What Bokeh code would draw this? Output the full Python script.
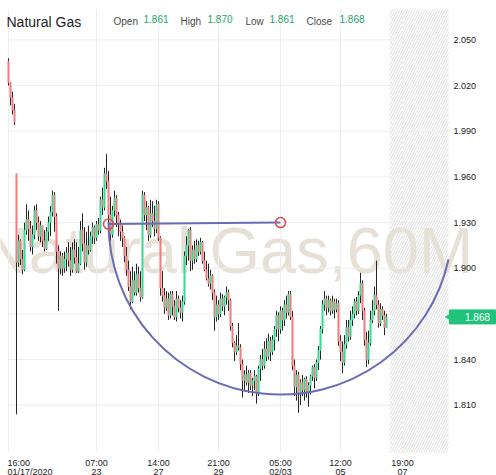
import math
from bokeh.plotting import figure
from bokeh.models import ColumnDataSource, Range1d, BoxAnnotation
from bokeh.core.properties import value
from bokeh.embed import file_html
from bokeh.resources import INLINE

# ---------------- data ----------------
instrument = "Natural Gas"
interval = "60M"

close = [
    2.022, 2.012, 2.004, 1.996, 1.904, 1.918, 1.906, 1.899, 1.925, 1.932,
    1.926, 1.914, 1.922, 1.938, 1.930, 1.921, 1.928, 1.918, 1.913, 1.924,
    1.930, 1.937, 1.948, 1.934, 1.911, 1.900, 1.908, 1.900, 1.906, 1.910,
    1.905, 1.899, 1.912, 1.907, 1.898, 1.903, 1.925, 1.916, 1.904, 1.915,
    1.912, 1.921, 1.927, 1.920, 1.929, 1.925, 1.945, 1.940, 1.962, 1.957,
    1.935, 1.922, 1.938, 1.946, 1.935, 1.929, 1.924, 1.920, 1.908, 1.899,
    1.888, 1.878, 1.892, 1.884, 1.896, 1.887, 1.881, 1.948, 1.935, 1.940,
    1.922, 1.936, 1.931, 1.926, 1.942, 1.920, 1.887, 1.882, 1.874, 1.880,
    1.869, 1.883, 1.875, 1.868, 1.880, 1.874, 1.871, 1.878, 1.908, 1.915,
    1.925, 1.905, 1.912, 1.906, 1.915, 1.911, 1.917, 1.905, 1.899, 1.893,
    1.890, 1.895, 1.884, 1.868, 1.876, 1.870, 1.880, 1.875, 1.881, 1.884,
    1.879, 1.862, 1.851, 1.845, 1.849, 1.848, 1.837, 1.826, 1.830, 1.825,
    1.831, 1.823, 1.826, 1.829, 1.818, 1.834, 1.840, 1.836, 1.847, 1.842,
    1.852, 1.845, 1.853, 1.860, 1.869, 1.860, 1.872, 1.866, 1.876, 1.871,
    1.883, 1.868, 1.836, 1.822, 1.830, 1.818, 1.825, 1.820, 1.827, 1.819,
    1.823, 1.829, 1.835, 1.828, 1.838, 1.846, 1.860, 1.876, 1.880, 1.874,
    1.879, 1.872, 1.878, 1.873, 1.877, 1.852, 1.845, 1.838, 1.850, 1.861,
    1.855, 1.866, 1.870, 1.878, 1.872, 1.882, 1.890, 1.872, 1.853, 1.840,
    1.851, 1.866, 1.872, 1.882, 1.876, 1.864, 1.873, 1.869, 1.861, 1.868,
]
high = [
    2.038, 2.022, 2.016, 2.008, 1.962, 1.922, 1.919, 1.912, 1.930, 1.942,
    1.938, 1.931, 1.928, 1.941, 1.942, 1.934, 1.931, 1.928, 1.925, 1.927,
    1.934, 1.941, 1.951, 1.950, 1.936, 1.915, 1.911, 1.910, 1.911, 1.914,
    1.917, 1.914, 1.917, 1.919, 1.917, 1.914, 1.931, 1.936, 1.927, 1.924,
    1.928, 1.924, 1.930, 1.928, 1.931, 1.933, 1.947, 1.953, 1.966, 1.975,
    1.964, 1.947, 1.941, 1.951, 1.948, 1.937, 1.932, 1.928, 1.921, 1.914,
    1.905, 1.898, 1.901, 1.898, 1.903, 1.901, 1.898, 1.951, 1.950, 1.944,
    1.941, 1.945, 1.944, 1.941, 1.945, 1.944, 1.921, 1.898, 1.887, 1.885,
    1.884, 1.885, 1.885, 1.879, 1.885, 1.882, 1.879, 1.882, 1.911, 1.921,
    1.926, 1.927, 1.915, 1.918, 1.919, 1.918, 1.920, 1.918, 1.911, 1.905,
    1.903, 1.899, 1.896, 1.886, 1.882, 1.879, 1.884, 1.883, 1.882, 1.888,
    1.886, 1.880, 1.864, 1.852, 1.856, 1.864, 1.850, 1.840, 1.833, 1.836,
    1.833, 1.833, 1.828, 1.833, 1.830, 1.836, 1.843, 1.847, 1.852, 1.854,
    1.857, 1.855, 1.856, 1.862, 1.872, 1.871, 1.875, 1.874, 1.879, 1.882,
    1.885, 1.885, 1.872, 1.840, 1.833, 1.832, 1.827, 1.830, 1.828, 1.829,
    1.825, 1.830, 1.836, 1.837, 1.840, 1.849, 1.862, 1.879, 1.885, 1.882,
    1.882, 1.880, 1.882, 1.880, 1.880, 1.879, 1.856, 1.852, 1.856, 1.866,
    1.866, 1.872, 1.875, 1.880, 1.881, 1.885, 1.897, 1.892, 1.874, 1.858,
    1.859, 1.872, 1.879, 1.888, 1.905, 1.879, 1.877, 1.875, 1.872, 1.870,
]
low = [
    2.020, 2.007, 2.001, 1.994, 1.804, 1.901, 1.902, 1.896, 1.898, 1.922,
    1.918, 1.911, 1.909, 1.919, 1.925, 1.918, 1.917, 1.914, 1.911, 1.912,
    1.918, 1.921, 1.934, 1.924, 1.903, 1.872, 1.896, 1.895, 1.897, 1.898,
    1.901, 1.895, 1.897, 1.903, 1.897, 1.897, 1.902, 1.911, 1.899, 1.901,
    1.909, 1.911, 1.916, 1.916, 1.918, 1.922, 1.923, 1.935, 1.938, 1.952,
    1.929, 1.918, 1.920, 1.934, 1.927, 1.921, 1.918, 1.914, 1.904, 1.895,
    1.885, 1.873, 1.877, 1.882, 1.882, 1.884, 1.878, 1.880, 1.931, 1.925,
    1.918, 1.920, 1.927, 1.921, 1.923, 1.918, 1.882, 1.878, 1.870, 1.872,
    1.866, 1.867, 1.869, 1.866, 1.865, 1.871, 1.867, 1.865, 1.876, 1.902,
    1.905, 1.898, 1.899, 1.903, 1.904, 1.908, 1.909, 1.903, 1.898, 1.892,
    1.888, 1.886, 1.879, 1.859, 1.865, 1.866, 1.868, 1.872, 1.869, 1.876,
    1.872, 1.859, 1.848, 1.839, 1.843, 1.846, 1.833, 1.815, 1.820, 1.823,
    1.818, 1.820, 1.816, 1.820, 1.811, 1.816, 1.826, 1.833, 1.834, 1.839,
    1.840, 1.839, 1.843, 1.846, 1.855, 1.852, 1.857, 1.859, 1.862, 1.867,
    1.869, 1.866, 1.833, 1.816, 1.813, 1.805, 1.810, 1.816, 1.813, 1.815,
    1.809, 1.817, 1.826, 1.821, 1.826, 1.833, 1.840, 1.857, 1.872, 1.869,
    1.871, 1.869, 1.870, 1.867, 1.871, 1.849, 1.839, 1.831, 1.836, 1.847,
    1.852, 1.853, 1.862, 1.867, 1.869, 1.870, 1.877, 1.866, 1.849, 1.835,
    1.837, 1.849, 1.864, 1.869, 1.873, 1.861, 1.862, 1.866, 1.856, 1.861,
]
first_open = 2.036
gap_opens = {4: 1.962}          # bar index -> open after the holiday gap

tick_index = [0, 44, 75, 105, 136, 166, 197]
tick_time = ["16:00", "07:00", "14:00", "21:00", "05:00", "12:00", "19:00"]
tick_date = ["01/17/2020", "23", "27", "29", "02/03", "05", "07"]
price_ticks = [1.810, 1.840, 1.870, 1.900, 1.930, 1.960, 1.990, 2.020, 2.050]

# drawing on the chart (bar index, price)
draw_x = [50, 136]
draw_y = [1.929, 1.930]

# ---------------- layout constants (pixels) ----------------
W, H = 496, 475
PX_PER_BAR = 2.0
BAR0_PX = 8.0                   # x pixel of bar 0
PX_PER_PRICE = 1522.0
PRICE0, PRICE0_PX = 1.810, 404.7
PLOT_L, PLOT_R, PLOT_T, PLOT_B = 7, 448, 9, 452


def xd(px):
    return (px - BAR0_PX) / PX_PER_BAR


def yd(py):
    return PRICE0 + (PRICE0_PX - py) / PX_PER_PRICE


FONT = value("Liberation Sans")
GREEN_TXT = "#1ea36a"
TAG = "#20c27c"
UP = "#3cd896"
DOWN = "#f07f7f"
WICK = "#262626"
DRAW = "#6a6cb6"
GRID = "#eeeeee"
AXIS_TXT = "#1a1a1a"

# ---------------- build ----------------
n = len(close)
opens = [first_open] + close[:-1]
for k, v in gap_opens.items():
    opens[k] = v
src = ColumnDataSource(dict(
    x=list(range(n)), h=high, l=low,
    top=[max(a, b) for a, b in zip(opens, close)],
    bot=[min(a, b) for a, b in zip(opens, close)],
    col=[UP if c >= o else DOWN for o, c in zip(opens, close)],
))

p = figure(width=W, height=H,
           x_range=Range1d(xd(0), xd(W)), y_range=Range1d(yd(H), yd(0)),
           output_backend="svg", toolbar_location=None,
           x_axis_location=None, y_axis_location=None, min_border=0)
p.outline_line_color = None
p.background_fill_color = "white"
p.border_fill_color = "white"
p.grid.visible = False

# future (hatched) zone
p.add_layout(BoxAnnotation(left=n + 0.5, right=xd(PLOT_R), top=yd(PLOT_T), bottom=yd(PLOT_B),
                           fill_alpha=0, line_alpha=0,
                           hatch_pattern="/", hatch_color="#e0e0e0",
                           hatch_scale=5, hatch_weight=1, level="underlay"))

# watermark
p.text(x=[xd(227)], y=[yd(250)], text=[f"{instrument},{interval}"],
       text_font=FONT, text_font_size="65px", text_color="#e6e0d6",
       text_align="center", text_baseline="alphabetic")

# grid lines
p.segment(x0=[xd(PLOT_L)] * len(price_ticks), x1=[xd(PLOT_R)] * len(price_ticks),
          y0=price_ticks, y1=price_ticks, line_color=GRID, line_width=1)
p.segment(x0=tick_index, x1=tick_index,
          y0=[yd(PLOT_T)] * len(tick_index), y1=[yd(PLOT_B)] * len(tick_index),
          line_color=GRID, line_width=1)

# candles
p.segment(x0="x", y0="h", x1="x", y1="l", source=src, line_color=WICK, line_width=1)
p.vbar(x="x", top="top", bottom="bot", width=0.75, source=src,
       fill_color="col", line_color="col", line_width=0.5)

# drawing: line, arc and anchors
p.line(draw_x, draw_y, line_color=DRAW, line_width=2)
r_px = (draw_x[1] - draw_x[0]) * PX_PER_BAR
cx_px = BAR0_PX + draw_x[1] * PX_PER_BAR
end_ang = 2 * math.pi - math.acos(min(1.0, (PLOT_R - cx_px) / r_px))
p.arc(x=[draw_x[1]], y=[draw_y[1]], radius=r_px, radius_units="screen",
      start_angle=math.pi, end_angle=end_ang, direction="anticlock",
      line_color=DRAW, line_width=2)
p.scatter(draw_x, draw_y, marker="circle", size=10, fill_alpha=0,
          line_color="#e0484a", line_width=1.5)

# price axis labels (right)
p.text(x=[xd(453)] * len(price_ticks), y=price_ticks,
       text=[f"{v:.3f}" for v in price_ticks],
       text_font=FONT, text_font_size="9px", text_color=AXIS_TXT,
       text_align="left", text_baseline="middle")

# time axis labels (bottom)
p.text(x=tick_index[1:], y=[yd(462)] * (len(tick_index) - 1), text=tick_time[1:],
       text_font=FONT, text_font_size="9px", text_color=AXIS_TXT,
       text_align="center", text_baseline="alphabetic")
p.text(x=tick_index[1:], y=[yd(471)] * (len(tick_index) - 1), text=tick_date[1:],
       text_font=FONT, text_font_size="9px", text_color=AXIS_TXT,
       text_align="center", text_baseline="alphabetic")
p.text(x=[tick_index[0]] * 2, y=[yd(462), yd(471)], text=[tick_time[0], tick_date[0]],
       x_offset=-1, text_font=FONT, text_font_size="9px", text_color=AXIS_TXT,
       text_align="left", text_baseline="alphabetic")

# header
p.text(x=[xd(6)], y=[yd(21)], text=[instrument], text_font=FONT,
       text_font_size="14px", text_color="#222222", text_baseline="alphabetic")
hdr_names = ["Open", "High", "Low", "Close"]
hdr_vals = [opens[-1], high[-1], low[-1], close[-1]]
hdr_name_px = [113, 180, 245, 306]
hdr_val_px = [143, 207, 269, 339]
p.text(x=[xd(v) for v in hdr_name_px], y=[yd(21)] * 4, text=hdr_names,
       text_font=FONT, text_font_size="10px", text_color="#4a4a4a",
       text_baseline="alphabetic")
p.text(x=[xd(v) for v in hdr_val_px], y=[yd(18)] * 4, text=[f"{v:.3f}" for v in hdr_vals],
       text_font=FONT, text_font_size="10px", text_color=GREEN_TXT,
       text_baseline="alphabetic")

# last price tag
p.rect(x=[xd(472)], y=[close[-1]], width=46, height=14,
       width_units="screen", height_units="screen",
       fill_color=TAG, line_color=TAG)
p.scatter(x=[xd(449.5)], y=[close[-1]], marker="triangle", angle=math.pi / 2, size=8,
          fill_color=TAG, line_color=TAG)
p.text(x=[xd(477)], y=[close[-1]], text=[f"{close[-1]:.3f}"], text_font=FONT,
       text_font_size="10px", text_color="white", text_align="center",
       text_baseline="middle")

open("out.html", "w").write(file_html(p, INLINE))
